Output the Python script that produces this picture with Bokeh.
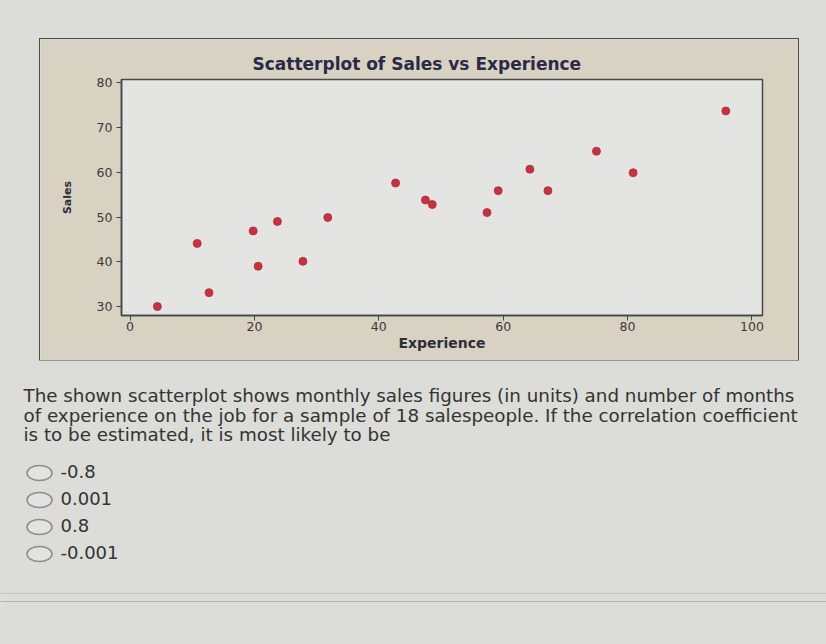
from bokeh.plotting import figure
from bokeh.layouts import column, row
from bokeh.models import (Spacer, Range1d, Span, ColumnDataSource, FixedTicker)
from bokeh.core.properties import value
from bokeh.embed import file_html
from bokeh.resources import INLINE

# ---- data ----
experience = [4.4, 10.8, 12.7, 19.8, 20.6, 23.7, 27.8, 31.8, 42.7, 47.5, 48.6,
              57.4, 59.2, 64.3, 67.2, 75.0, 80.9, 95.8]
sales = [30.0, 44.1, 33.1, 46.9, 39.0, 49.0, 40.1, 49.9, 57.6, 53.8, 52.8,
         51.0, 55.9, 60.7, 55.9, 64.7, 59.9, 73.7]
x_ticks = [0, 20, 40, 60, 80, 100]
y_ticks = [30, 40, 50, 60, 70, 80]
title_text = "Scatterplot of Sales vs Experience"
x_label = "Experience"
y_label = "Sales"
question_lines = [
    "The shown scatterplot shows monthly sales figures (in units) and number of months",
    "of experience on the job for a sample of 18 salespeople. If the correlation coefficient",
    "is to be estimated, it is most likely to be",
]
options = ["-0.8", "0.001", "0.8", "-0.001"]

PAGE_BG = "#dcdcd8"
BEIGE = "#d7d2c2"
PLOT_BG = "#e4e4e2"
INK = "#3a3a3a"
DEJAVU = "DejaVu Sans"

# ---- chart (the beige Minitab-like box) ----
W, H = 758, 321
p = figure(width=W, height=H, output_backend="svg", toolbar_location=None,
           x_range=Range1d(-1.37, 101.7), y_range=Range1d(27.99, 80.74),
           min_border_left=81, min_border_right=36, min_border_top=40,
           min_border_bottom=45,
           styles={"outline": "1.5px solid #4a4a4a"})
p.border_fill_color = BEIGE
p.background_fill_color = PLOT_BG
p.outline_line_color = "#4a4a4a"
p.outline_line_width = 1.5
p.grid.visible = False

# title: centred on the whole beige box, i.e. shifted left of the frame centre
p.title.text = title_text
p.title.align = "left"
p.title.offset = 131
p.title.standoff = 11
p.title.text_font = DEJAVU
p.title.text_font_style = "bold"
p.title.text_font_size = "17px"
p.title.text_color = "#2a2a48"

src = ColumnDataSource(dict(x=experience, y=sales))
p.scatter("x", "y", source=src, size=8, fill_color="#c8323f",
          line_color="#b02838", line_width=0.8)

for ax, ticks in ((p.xaxis[0], x_ticks), (p.yaxis[0], y_ticks)):
    ax.ticker = FixedTicker(ticks=ticks)
    ax.minor_tick_line_color = None
    ax.major_tick_in = 0
    ax.major_tick_out = 5
    ax.major_tick_line_color = "#444444"
    ax.axis_line_color = "#444444"
    ax.axis_line_width = 1.5
    ax.major_label_text_font = DEJAVU
    ax.major_label_text_font_size = "12.5px"
    ax.major_label_text_color = INK
    ax.axis_label_text_font = DEJAVU
    ax.axis_label_text_font_style = "bold"
    ax.axis_label_text_color = "#2e2e3a"

p.xaxis.axis_label = x_label
p.xaxis.axis_label_text_font_size = "14px"
p.xaxis.axis_label_standoff = 1
p.xaxis.major_label_standoff = 1
p.yaxis.axis_label = y_label
p.yaxis.axis_label_text_font_size = "11px"
p.yaxis.axis_label_standoff = 20
p.yaxis.major_label_standoff = 4

# ---- question text and options ----
TW, TH = 826, 283
t = figure(width=TW, height=TH, output_backend="svg", toolbar_location=None,
           x_range=Range1d(0, TW), y_range=Range1d(TH, 0),
           x_axis_type=None, y_axis_type=None, min_border=0)
t.border_fill_color = PAGE_BG
t.background_fill_color = PAGE_BG
t.outline_line_color = None
t.grid.visible = False

q_src = ColumnDataSource(dict(
    text=question_lines,
    x=[23] * len(question_lines),
    y=[35 + i * 19.5 for i in range(len(question_lines))],
))
t.text(x="x", y="y", text="text", source=q_src, text_baseline="middle",
       text_font=value(DEJAVU), text_font_size="18.3px", text_color="#333333")

opt_y = [111 + i * 27 for i in range(len(options))]
opt_src = ColumnDataSource(dict(
    label=options,
    y=opt_y,
    cy=[v + 1.5 for v in opt_y],
    cx=[39] * len(options),
    lx=[60] * len(options),
))
t.ellipse(x="cx", y="cy", width=25, height=15, source=opt_src,
          fill_color="#e2e2e0", line_color="#8c8c8c", line_width=1.5)
t.text(x="lx", y="y", text="label", source=opt_src, text_baseline="middle",
       text_font=value(DEJAVU), text_font_size="18px", text_color="#333333")

for loc, col in ((233, "#c4c4c0"), (241, "#b4b4b0")):
    t.add_layout(Span(location=loc, dimension="width", line_color=col,
                      line_width=1))

layout = column(
    Spacer(height=39, width=826),
    row(Spacer(width=40, height=H), p, Spacer(width=28, height=H)),
    t,
    styles={"background-color": PAGE_BG},
)

html = file_html(layout, INLINE)
html = html.replace("</head>", "<style>body{background-color:%s;}</style></head>" % PAGE_BG)
open("out.html", "w").write(html)
